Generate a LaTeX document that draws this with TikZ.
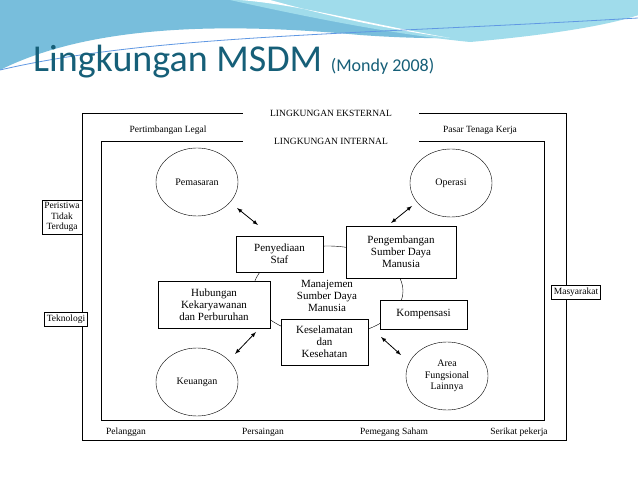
\documentclass[tikz,border=0pt]{standalone}
\usepackage{fontspec}
\usetikzlibrary{shapes.geometric}
\setmainfont{Liberation Serif}
\newfontfamily\titlefont{Carlito}
\definecolor{titleteal}{RGB}{22,95,120}
\definecolor{wavea}{RGB}{120,190,220}
\definecolor{waveb}{RGB}{160,220,235}
\begin{document}
\begin{tikzpicture}[x=1pt,y=-1pt,
  bx/.style={draw,fill=white,align=center,font=\fontsize{11}{12}\selectfont,inner sep=2pt},
  lbl/.style={align=center,font=\fontsize{9.5}{10.5}\selectfont,inner sep=1pt},
  elab/.style={draw,fill=white,align=center,font=\fontsize{9.5}{10.5}\selectfont,inner sep=2.5pt},
  circ/.style={draw,ellipse,minimum width=82pt,minimum height=68pt},
  dbl/.style={<->,>=latex,thick}]
\useasboundingbox (0,0) rectangle (638,478);
\fill[white] (0,0) rectangle (638,478);
% decorative waves
\fill[wavea] (0,0) -- (0,70) .. controls (80,30) and (200,20) .. (360,35) .. controls (500,45) and (580,30) .. (638,15) -- (638,0) -- cycle;
\fill[waveb] (230,0) .. controls (320,20) and (400,35) .. (470,42) .. controls (550,35) and (610,25) .. (638,15) -- (638,0) -- cycle;
\fill[white] (240,0) .. controls (300,5) and (350,20) .. (450,38) .. controls (360,25) and (300,8) .. (270,0) -- cycle;
\draw[wavea!80!blue,line width=0.8pt] (0,70) .. controls (150,35) and (350,35) .. (638,18);
\node[anchor=base west,text=titleteal,inner sep=0] (title) at (33,72) {\titlefont\fontsize{38}{42}\selectfont Lingkungan MSDM \fontsize{18}{20}\selectfont(Mondy 2008)};
% frames
\draw (82,113) rectangle (566,440);
\draw (101,141) rectangle (544,420);
\node[lbl,fill=white,minimum width=176pt,inner sep=3pt] (ext) at (331,113) {LINGKUNGAN EKSTERNAL};
\node[lbl,fill=white,minimum width=176pt,inner sep=3pt] (int) at (331,141) {LINGKUNGAN INTERNAL};
\node[lbl] (legal) at (168,130) {Pertimbangan Legal};
\node[lbl] (pasar) at (480,130) {Pasar Tenaga Kerja};
\node[elab] (peri) at (62,217) {Peristiwa\\Tidak\\Terduga};
\node[elab] (tek) at (66,319) {Teknologi};
\node[elab] (masy) at (576,292) {Masyarakat};
\node[lbl] (pel) at (126,432) {Pelanggan};
\node[lbl] (pers) at (263,432) {Persaingan};
\node[lbl] (peme) at (394,432) {Pemegang Saham};
\node[lbl] (seri) at (519,432) {Serikat pekerja};
% circles
\node[circ,font=\fontsize{10}{11.5}\selectfont] (pem) at (197,182) {Pemasaran};
\node[circ,font=\fontsize{10}{11.5}\selectfont] (ope) at (451,183) {Operasi};
\node[circ,font=\fontsize{10}{11.5}\selectfont] (keu) at (197,382) {Keuangan};
\node[circ,align=center,font=\fontsize{10}{11.5}\selectfont] (area) at (447,376) {Area\\Fungsional\\Lainnya};
% center
\draw (328,291) ellipse (75 and 45);
\node[align=center,font=\fontsize{11}{12}\selectfont] (msdm) at (327,296) {Manajemen\\Sumber Daya\\Manusia};
\node[bx,minimum width=87pt,minimum height=36pt] (staf) at (279.5,254) {Penyediaan\\Staf};
\node[bx,minimum width=110pt,minimum height=52pt] (peng) at (401,252) {Pengembangan\\Sumber Daya\\Manusia};
\node[bx,minimum width=112pt,minimum height=47pt] (hub) at (214,304.5) {Hubungan\\Kekaryawanan\\dan Perburuhan};
\node[bx,minimum width=87pt,minimum height=29pt] (komp) at (423.5,314.5) {Kompensasi};
\node[bx,minimum width=87pt,minimum height=46pt] (kes) at (324.5,342) {Keselamatan\\dan\\Kesehatan};
% arrows
\coordinate (a1) at (237,208); \coordinate (b1) at (258,225);
\coordinate (a2) at (412,206); \coordinate (b2) at (391,223);
\coordinate (a3) at (256,332); \coordinate (b3) at (235,354);
\coordinate (a4) at (381,337); \coordinate (b4) at (401,355);
\draw[dbl] (a1) -- (b1);
\draw[dbl] (a2) -- (b2);
\draw[dbl] (a3) -- (b3);
\draw[dbl] (a4) -- (b4);
\end{tikzpicture}
\end{document}
